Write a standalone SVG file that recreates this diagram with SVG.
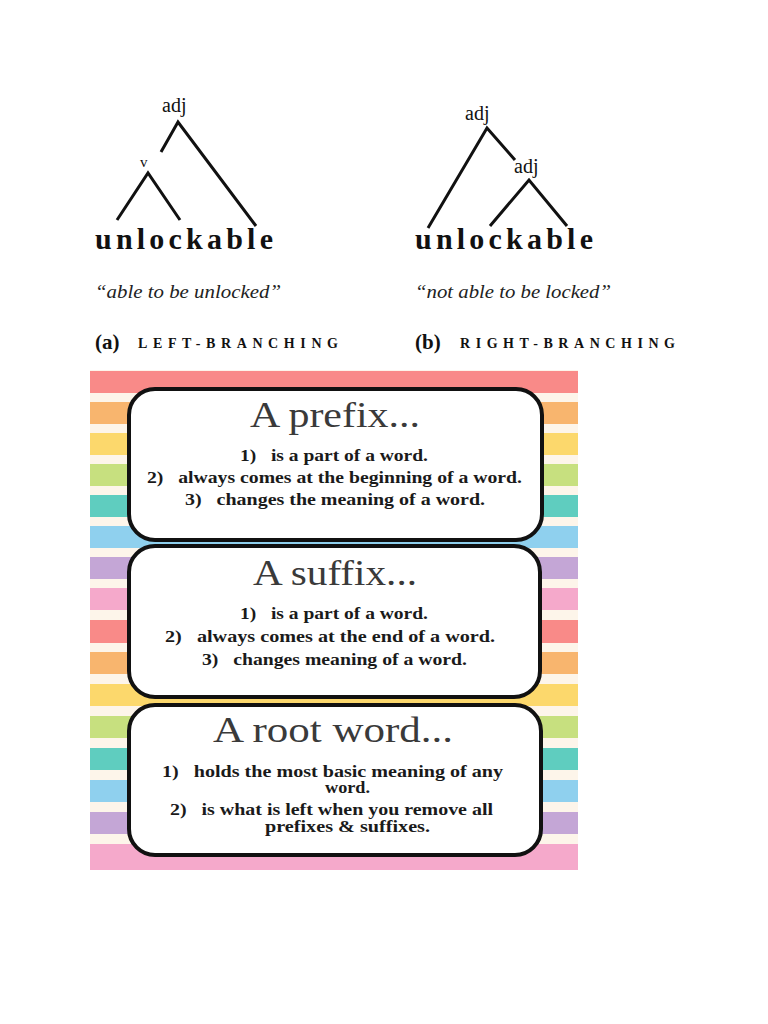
<svg xmlns="http://www.w3.org/2000/svg" width="768" height="1024" viewBox="0 0 768 1024">
<style>
.lbl{font-family:"Liberation Serif",serif;font-size:20px;fill:#111}
.word{font-family:"Liberation Serif",serif;font-size:30px;font-weight:bold;fill:#111}
.gloss{font-family:"Liberation Serif",serif;font-size:19px;font-style:italic;fill:#222}
.cap{font-family:"Liberation Serif",serif;font-size:21px;font-weight:bold;fill:#111}
.sc{font-family:"Liberation Serif",serif;font-size:14px;font-weight:bold;fill:#111}
.br{stroke:#111;stroke-width:3;fill:none;stroke-linecap:butt}
.box{fill:#fff;stroke:#111;stroke-width:4}
.ttl{font-family:"Liberation Serif",serif;font-size:36px;fill:#3a3a3a}
.itm{font-family:"Liberation Serif",serif;font-size:16px;fill:#1a1a1a;font-weight:bold;white-space:pre}
.gap{fill:#fdf5ea}
</style>
<rect width="768" height="1024" fill="#fff"/>

<g id="tree-left">
<text class="lbl" x="162" y="112">adj</text>
<text class="lbl" x="140" y="167" style="font-size:15px">v</text>
<path class="br" d="M161,152 L178,122 L256,226"/>
<path class="br" d="M117,220 L148,173 L180,220"/>
<text class="word" x="95" y="249" textLength="178" lengthAdjust="spacing">unlockable</text>
<text class="gloss" x="95" y="298" textLength="186" lengthAdjust="spacingAndGlyphs">“able to be unlocked”</text>
<text class="cap" x="95" y="349">(a)</text>
<text class="sc" x="138" y="348" textLength="200" lengthAdjust="spacing">LEFT-BRANCHING</text>
</g>

<g id="tree-right">
<text class="lbl" x="465" y="120">adj</text>
<text class="lbl" x="514" y="173">adj</text>
<path class="br" d="M428,228 L487,128 L515,160"/>
<path class="br" d="M490,226 L529,180 L567,226"/>
<text class="word" x="415" y="249" textLength="178" lengthAdjust="spacing">unlockable</text>
<text class="gloss" x="415" y="298" textLength="196" lengthAdjust="spacingAndGlyphs">“not able to be locked”</text>
<text class="cap" x="415" y="349">(b)</text>
<text class="sc" x="460" y="348" textLength="215" lengthAdjust="spacing">RIGHT-BRANCHING</text>
</g>

<g id="poster-bg">
<rect class="gap" x="90" y="370" width="488" height="500"/>
<rect x="90" y="371" width="488" height="22" fill="#f98a88"/>
<rect x="90" y="402" width="488" height="22" fill="#f8b56e"/>
<rect x="90" y="433" width="488" height="22" fill="#fcd86c"/>
<rect x="90" y="464" width="488" height="22" fill="#c7e07f"/>
<rect x="90" y="495" width="488" height="22" fill="#5fcdbf"/>
<rect x="90" y="526" width="488" height="22" fill="#8fd0ee"/>
<rect x="90" y="557" width="488" height="22" fill="#c4a6d6"/>
<rect x="90" y="588" width="488" height="22" fill="#f5a9cb"/>
<rect x="90" y="620" width="488" height="23" fill="#f98a88"/>
<rect x="90" y="652" width="488" height="22" fill="#f8b56e"/>
<rect x="90" y="684" width="488" height="22" fill="#fcd86c"/>
<rect x="90" y="716" width="488" height="22" fill="#c7e07f"/>
<rect x="90" y="748" width="488" height="22" fill="#5fcdbf"/>
<rect x="90" y="780" width="488" height="22" fill="#8fd0ee"/>
<rect x="90" y="812" width="488" height="22" fill="#c4a6d6"/>
<rect x="90" y="844" width="488" height="26" fill="#f5a9cb"/>
</g>

<g id="box-prefix">
<rect class="box" x="129" y="389" width="413" height="151" rx="26"/>
<text class="ttl" x="250" y="427" textLength="170" lengthAdjust="spacingAndGlyphs">A prefix...</text>
<text class="itm" xml:space="preserve" x="240" y="461" textLength="188" lengthAdjust="spacingAndGlyphs">1)   is a part of a word.</text>
<text class="itm" xml:space="preserve" x="147" y="483" textLength="375" lengthAdjust="spacingAndGlyphs">2)   always comes at the beginning of a word.</text>
<text class="itm" xml:space="preserve" x="185" y="505" textLength="300" lengthAdjust="spacingAndGlyphs">3)   changes the meaning of a word.</text>
</g>

<g id="box-suffix">
<rect class="box" x="129" y="546" width="411" height="151" rx="26"/>
<text class="ttl" x="253" y="585" textLength="164" lengthAdjust="spacingAndGlyphs">A suffix...</text>
<text class="itm" xml:space="preserve" x="240" y="619" textLength="188" lengthAdjust="spacingAndGlyphs">1)   is a part of a word.</text>
<text class="itm" xml:space="preserve" x="165" y="642" textLength="330" lengthAdjust="spacingAndGlyphs">2)   always comes at the end of a word.</text>
<text class="itm" xml:space="preserve" x="202" y="665" textLength="265" lengthAdjust="spacingAndGlyphs">3)   changes meaning of a word.</text>
</g>

<g id="box-root">
<rect class="box" x="129" y="705" width="412" height="150" rx="26"/>
<text class="ttl" x="213" y="742" textLength="240" lengthAdjust="spacingAndGlyphs">A root word...</text>
<text class="itm" xml:space="preserve" x="162" y="777" textLength="341" lengthAdjust="spacingAndGlyphs">1)   holds the most basic meaning of any</text>
<text class="itm" x="325" y="793" textLength="45" lengthAdjust="spacingAndGlyphs">word.</text>
<text class="itm" xml:space="preserve" x="170" y="815" textLength="323" lengthAdjust="spacingAndGlyphs">2)   is what is left when you remove all</text>
<text class="itm" x="265" y="832" textLength="165" lengthAdjust="spacingAndGlyphs">prefixes &amp; suffixes.</text>
</g>
</svg>
